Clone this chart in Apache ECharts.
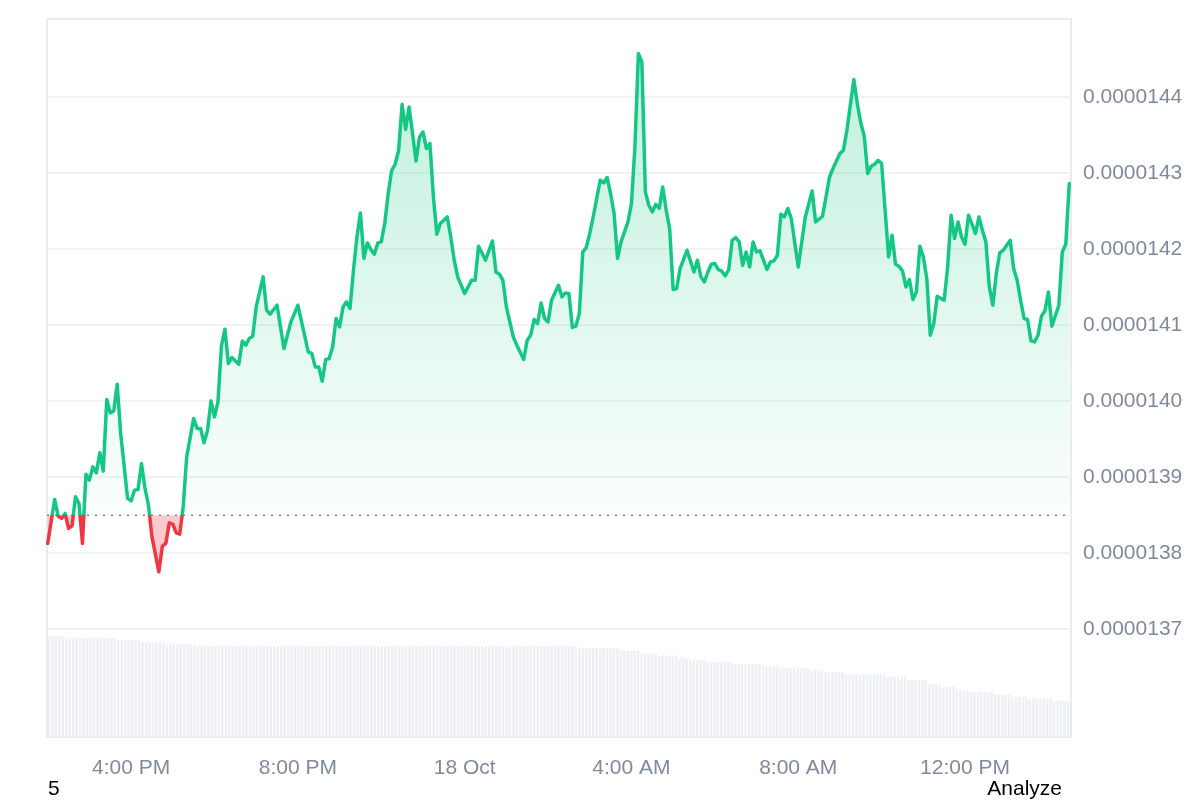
<!DOCTYPE html>
<html>
<head>
<meta charset="utf-8">
<title>Price chart</title>
<script src="https://cdn.jsdelivr.net/npm/echarts@6/dist/echarts.min.js"></script>
<style>
  html, body { margin: 0; padding: 0; background: #fff; }
  #chart { width: 1200px; height: 800px; }
</style>
</head>
<body>
<div id="chart"></div>
<script>
// 5-minute slot index (from 17 Oct 14:00 UTC) of each price point
const slot = [
  0, 2, 3, 4, 5, 6, 7, 8, 9, 10, 11, 12, 13, 14, 15, 16, 17, 18, 19, 20,
  21, 23, 24, 25, 26, 27, 28, 29, 30, 32, 33, 34, 35, 36, 37, 38, 39, 40, 42, 43,
  44, 45, 46, 47, 48, 49, 50, 51, 52, 53, 55, 56, 57, 58, 59, 60, 62, 63, 64, 66,
  68, 70, 72, 75, 76, 77, 78, 79, 80, 81, 82, 83, 84, 85, 86, 87, 88, 89, 90, 91,
  92, 93, 94, 95, 96, 97, 98, 99, 100, 101, 102, 103, 104, 105, 106, 107, 108, 109, 110, 111,
  112, 113, 115, 116, 117, 118, 120, 121, 122, 123, 124, 126, 128, 129, 130, 131, 132, 134, 135, 137,
  138, 139, 140, 141, 142, 143, 144, 145, 147, 148, 149, 150, 151, 152, 153, 154, 155, 156, 157, 159,
  160, 161, 162, 163, 164, 165, 167, 168, 169, 170, 171, 172, 173, 174, 175, 176, 177, 178, 179, 180,
  181, 182, 184, 186, 187, 188, 189, 190, 191, 192, 193, 194, 195, 196, 197, 198, 199, 200, 201, 202,
  203, 204, 205, 207, 208, 209, 210, 211, 212, 213, 214, 216, 218, 220, 221, 223, 225, 226, 228, 229,
  230, 232, 233, 234, 235, 236, 237, 238, 239, 240, 241, 242, 243, 244, 245, 246, 247, 248, 249, 250,
  251, 252, 253, 254, 255, 256, 258, 259, 260, 261, 262, 263, 264, 265, 266, 267, 268, 269, 270, 271,
  272, 273, 274, 275, 277, 278, 279, 280, 281, 282, 283, 284, 285, 286, 287, 288, 289, 291, 292, 293,
  294
];

const price = [
  1.38128e-5, 1.38707e-5, 1.38487e-5, 1.38457e-5, 1.38522e-5, 1.38325e-5, 1.38359e-5, 1.38741e-5, 1.38654e-5, 1.38128e-5,
  1.39039e-5, 1.38961e-5, 1.39136e-5, 1.39057e-5, 1.39320e-5, 1.39079e-5, 1.40022e-5, 1.39846e-5, 1.39872e-5, 1.40224e-5,
  1.39575e-5, 1.38720e-5, 1.38688e-5, 1.38829e-5, 1.38838e-5, 1.39180e-5, 1.38851e-5, 1.38632e-5, 1.38214e-5, 1.37754e-5,
  1.38092e-5, 1.38128e-5, 1.38399e-5, 1.38382e-5, 1.38267e-5, 1.38250e-5, 1.38609e-5, 1.39267e-5, 1.39772e-5, 1.39641e-5,
  1.39641e-5, 1.39451e-5, 1.39618e-5, 1.40004e-5, 1.39793e-5, 1.39991e-5, 1.40724e-5, 1.40947e-5, 1.40496e-5, 1.40575e-5,
  1.40487e-5, 1.40793e-5, 1.40737e-5, 1.40825e-5, 1.40855e-5, 1.41241e-5, 1.41636e-5, 1.41197e-5, 1.41145e-5, 1.41263e-5,
  1.40693e-5, 1.41043e-5, 1.41263e-5, 1.40645e-5, 1.40628e-5, 1.40451e-5, 1.40451e-5, 1.40263e-5, 1.40549e-5, 1.40562e-5,
  1.40714e-5, 1.41088e-5, 1.40978e-5, 1.41241e-5, 1.41307e-5, 1.41220e-5, 1.41724e-5, 1.42162e-5, 1.42478e-5, 1.41878e-5,
  1.42083e-5, 1.41996e-5, 1.41934e-5, 1.42083e-5, 1.42096e-5, 1.42338e-5, 1.42733e-5, 1.43039e-5, 1.43118e-5, 1.43303e-5,
  1.43908e-5, 1.43575e-5, 1.43872e-5, 1.43522e-5, 1.43162e-5, 1.43478e-5, 1.43543e-5, 1.43325e-5, 1.43391e-5, 1.42688e-5,
  1.42197e-5, 1.42338e-5, 1.42425e-5, 1.42162e-5, 1.41855e-5, 1.41636e-5, 1.41417e-5, 1.41504e-5, 1.41592e-5, 1.41592e-5,
  1.42039e-5, 1.41855e-5, 1.42109e-5, 1.41701e-5, 1.41671e-5, 1.41592e-5, 1.41241e-5, 1.40846e-5, 1.40737e-5, 1.40549e-5,
  1.40803e-5, 1.40868e-5, 1.41075e-5, 1.41022e-5, 1.41293e-5, 1.41088e-5, 1.41043e-5, 1.41329e-5, 1.41526e-5, 1.41372e-5,
  1.41425e-5, 1.41417e-5, 1.40970e-5, 1.40987e-5, 1.41154e-5, 1.41964e-5, 1.42022e-5, 1.42207e-5, 1.42425e-5, 1.42908e-5,
  1.42872e-5, 1.42943e-5, 1.42733e-5, 1.42470e-5, 1.41878e-5, 1.42096e-5, 1.42359e-5, 1.42601e-5, 1.43346e-5, 1.44575e-5,
  1.44464e-5, 1.42754e-5, 1.42579e-5, 1.42491e-5, 1.42592e-5, 1.42536e-5, 1.42820e-5, 1.42513e-5, 1.42272e-5, 1.41470e-5,
  1.41483e-5, 1.41746e-5, 1.41987e-5, 1.41701e-5, 1.41855e-5, 1.41636e-5, 1.41570e-5, 1.41701e-5, 1.41803e-5, 1.41812e-5,
  1.41733e-5, 1.41711e-5, 1.41649e-5, 1.41733e-5, 1.42118e-5, 1.42154e-5, 1.42096e-5, 1.41789e-5, 1.41964e-5, 1.41767e-5,
  1.42096e-5, 1.41964e-5, 1.41978e-5, 1.41733e-5, 1.41833e-5, 1.41846e-5, 1.41921e-5, 1.42461e-5, 1.42425e-5, 1.42536e-5,
  1.42404e-5, 1.41767e-5, 1.42417e-5, 1.42767e-5, 1.42359e-5, 1.42434e-5, 1.42951e-5, 1.43062e-5, 1.43259e-5, 1.43303e-5,
  1.43566e-5, 1.44233e-5, 1.43917e-5, 1.43662e-5, 1.43487e-5, 1.42996e-5, 1.43092e-5, 1.43118e-5, 1.43171e-5, 1.43128e-5,
  1.42513e-5, 1.41899e-5, 1.42184e-5, 1.41803e-5, 1.41776e-5, 1.41714e-5, 1.41504e-5, 1.41601e-5, 1.41338e-5, 1.41438e-5,
  1.42039e-5, 1.41899e-5, 1.41614e-5, 1.40868e-5, 1.41022e-5, 1.41382e-5, 1.41329e-5, 1.41767e-5, 1.42447e-5, 1.42141e-5,
  1.42359e-5, 1.42162e-5, 1.42066e-5, 1.42447e-5, 1.42329e-5, 1.42207e-5, 1.42425e-5, 1.42250e-5, 1.42096e-5, 1.41504e-5,
  1.41263e-5, 1.41680e-5, 1.41951e-5, 1.41987e-5, 1.42118e-5, 1.41746e-5, 1.41592e-5, 1.41329e-5, 1.41088e-5, 1.41075e-5,
  1.40793e-5, 1.40780e-5, 1.40868e-5, 1.41118e-5, 1.41188e-5, 1.41438e-5, 1.40987e-5, 1.41263e-5, 1.41964e-5, 1.42066e-5,
  1.42864e-5
];

// rolling volume, one bar per 5-minute slot
const volume = [
  101, 101, 101, 101, 101, 98.7, 98.7, 98.7, 98.7, 98.7,
  98.7, 98.7, 98.7, 98.7, 98.7, 98.7, 98.7, 98.7, 98.7, 98.7,
  97, 97, 97, 97, 97, 97, 97, 94.7, 94.7, 94.7,
  94.7, 94.7, 94.7, 94.7, 92.7, 92.7, 92.7, 92.7, 92.7, 92.7,
  92.7, 92.7, 92.7, 90.7, 90.7, 90.7, 90.7, 90.7, 90.7, 90.7,
  90.7, 90.7, 90.7, 90.7, 90.7, 90.7, 90.7, 90.7, 90.7, 90.7,
  90.7, 90.7, 90.7, 90.7, 90.7, 90.7, 90.7, 90.7, 90.7, 90.7,
  90.7, 90.7, 90.7, 90.7, 90.7, 90.7, 90.7, 90.7, 90.7, 90.7,
  90.7, 90.7, 90.7, 90.7, 90.7, 90.7, 90.7, 90.7, 90.7, 90.7,
  90.7, 90.7, 90.7, 90.7, 90.7, 90.7, 90.7, 90.7, 90.7, 90.7,
  90.7, 90.7, 90.7, 90.7, 90.7, 90.7, 90.7, 90.7, 90.7, 90.7,
  90.7, 90.7, 90.7, 90.7, 90.7, 90.7, 90.7, 90.7, 90.7, 90.7,
  90.7, 90.7, 90.7, 90.7, 90.7, 90.7, 90.7, 90.7, 90.7, 90.7,
  90.7, 90.7, 90.7, 90.7, 90.7, 90.7, 90.7, 90.7, 90.7, 90.7,
  90.7, 90.7, 90.7, 90.7, 90.7, 90.7, 90.7, 90.7, 90.7, 90.7,
  90.7, 90.7, 90.7, 88.7, 88.7, 88.7, 88.7, 88.7, 88.7, 88.7,
  88.7, 88.7, 88.7, 88.7, 88.7, 86, 86, 86, 86, 86,
  86, 83.3, 83.3, 83.3, 83.3, 83.3, 81.3, 81.3, 81.3, 81.3,
  81.3, 81.3, 78.7, 78.7, 78.7, 76.7, 76.7, 76.7, 76.7, 76.7,
  74.7, 74.7, 74.7, 74.7, 74.7, 74.7, 74.7, 74.7, 73, 73,
  73, 73, 73, 73, 73, 73, 71, 71, 71, 71,
  71, 68.7, 68.7, 68.7, 68.7, 68.7, 68.7, 68.7, 68.7, 68.7,
  66.7, 66.7, 66.7, 66.7, 64.7, 64.7, 64.7, 64.7, 64.7, 64.7,
  62.7, 62.7, 62.7, 62.7, 62.7, 62.7, 62.7, 62.7, 62.7, 62.7,
  62.7, 62.7, 60.3, 60.3, 60.3, 60.3, 60.3, 60.3, 57, 57,
  57, 57, 57, 57, 53, 53, 53, 53, 50.3, 50.3,
  50.3, 50.3, 47, 47, 47, 47, 44.7, 44.7, 44.7, 44.7,
  44.7, 44.7, 44.7, 42.3, 42.3, 42.3, 42.3, 42.3, 40.3, 40.3,
  40.3, 40.3, 40.3, 38.3, 38.3, 38.3, 38.3, 38.3, 38.3, 38.3,
  36.3, 36.3, 36.3, 36.3, 36.3
];

const baseline = 1.385e-5;        // opening price, dotted reference line
const priceTicks = [1.37e-5, 1.44e-5];
const months = ['Jan', 'Feb', 'Mar', 'Apr', 'May', 'Jun', 'Jul', 'Aug', 'Sep', 'Oct', 'Nov', 'Dec'];

const GREEN = '#16c784';
const RED = '#ea3943';
const GREY = '#808a9d';
const FONT = 'Liberation Sans, Arial, sans-serif';

const t0 = Date.UTC(2024, 9, 17, 14, 0);
const STEP = 5 * 60 * 1000;
const xMin = Date.UTC(2024, 9, 17, 13, 59);
const xMax = Date.UTC(2024, 9, 18, 14, 32, 30);
const FOUR_H = 4 * 3600 * 1000;

const priceData = slot.map((s, i) => [t0 + s * STEP, price[i]]);
const volumeData = volume.map((v, i) => [t0 + i * STEP, v]);
const baseData = [[xMin, baseline], [xMax, baseline]];

const pMax = Math.max(...price);
const pMin = Math.min(...price);
const cut = (pMax - baseline) / (pMax - pMin);

function fmtTime(v) {
    const d = new Date(v);
    const h = d.getUTCHours(), m = d.getUTCMinutes();
    if (h === 0 && m === 0) return d.getUTCDate() + ' ' + months[d.getUTCMonth()];
    const h12 = h % 12 === 0 ? 12 : h % 12;
    return h12 + ':' + String(m).padStart(2, '0') + (h < 12 ? ' AM' : ' PM');
}

const chart = echarts.init(document.getElementById('chart'));
chart.setOption({
    animation: false,
    useUTC: true,
    backgroundColor: '#fff',
    textStyle: { fontFamily: FONT },
    grid: [
        { left: 47, right: 129, top: 19, bottom: 63, show: true, borderColor: '#ebebeb', borderWidth: 2 },
        { left: 47, right: 129, top: 636, bottom: 63 },
        { left: 47, right: 129, top: 97, bottom: 171 }
    ],
    xAxis: [
        {
            type: 'time', gridIndex: 0, min: xMin, max: xMax,
            minInterval: FOUR_H, maxInterval: FOUR_H,
            axisLine: { show: false }, axisTick: { show: false }, splitLine: { show: false },
            axisLabel: { formatter: fmtTime, color: GREY, fontSize: 21, margin: 21, fontFamily: FONT }
        },
        { type: 'time', gridIndex: 1, min: xMin, max: xMax, show: false },
        { type: 'value', gridIndex: 2, show: false }
    ],
    yAxis: [
        { type: 'value', gridIndex: 0, min: 1.3558e-5, max: 1.4503e-5, show: false },
        { type: 'value', gridIndex: 1, min: 0, max: 101, show: false },
        {
            type: 'value', gridIndex: 2, position: 'right',
            min: priceTicks[0], max: priceTicks[1], interval: 1e-7,
            axisLine: { show: false }, axisTick: { show: false },
            splitLine: { lineStyle: { color: '#eeeeee', width: 1.5 } },
            axisLabel: {
                color: GREY, fontSize: 21, margin: 12, fontFamily: FONT,
                formatter: v => v.toFixed(7)
            }
        }
    ],
    visualMap: {
        type: 'piecewise',
        show: false,
        seriesIndex: 1,
        dimension: 1,
        pieces: [
            { gte: 0, lt: baseline, color: RED },
            { gte: baseline, lte: 1, color: GREEN }
        ]
    },
    series: [
        {
            type: 'bar',
            xAxisIndex: 1, yAxisIndex: 1,
            data: volumeData,
            barWidth: 2.6,
            silent: true,
            itemStyle: { color: '#edf1f5' }
        },
        {
            type: 'line',
            xAxisIndex: 0, yAxisIndex: 0,
            data: priceData,
            showSymbol: false,
            silent: true,
            z: 3,
            lineStyle: { width: 3.5, join: 'round', cap: 'round' },
            areaStyle: {
                origin: baseline,
                opacity: 1,
                color: new echarts.graphic.LinearGradient(0, 0, 0, 1, [
                    { offset: 0, color: 'rgba(22,199,132,0.27)' },
                    { offset: cut, color: 'rgba(22,199,132,0.02)' },
                    { offset: cut, color: 'rgba(234,57,67,0.27)' },
                    { offset: 1, color: 'rgba(234,57,67,0.27)' }
                ])
            }
        },
        {
            // dotted opening-price reference
            type: 'line',
            xAxisIndex: 0, yAxisIndex: 0,
            data: baseData,
            showSymbol: false,
            silent: true,
            z: 2,
            lineStyle: { color: '#8a8a8a', type: [2, 6], width: 1.5 }
        }
    ],
    graphic: [
        { type: 'text', left: 48, top: 779, style: { text: '5', fontSize: 21, fill: '#000', fontFamily: FONT } },
        { type: 'text', right: 138, top: 779, style: { text: 'Analyze', fontSize: 21, fill: '#000', fontFamily: FONT } }
    ]
});
</script>
</body>
</html>
